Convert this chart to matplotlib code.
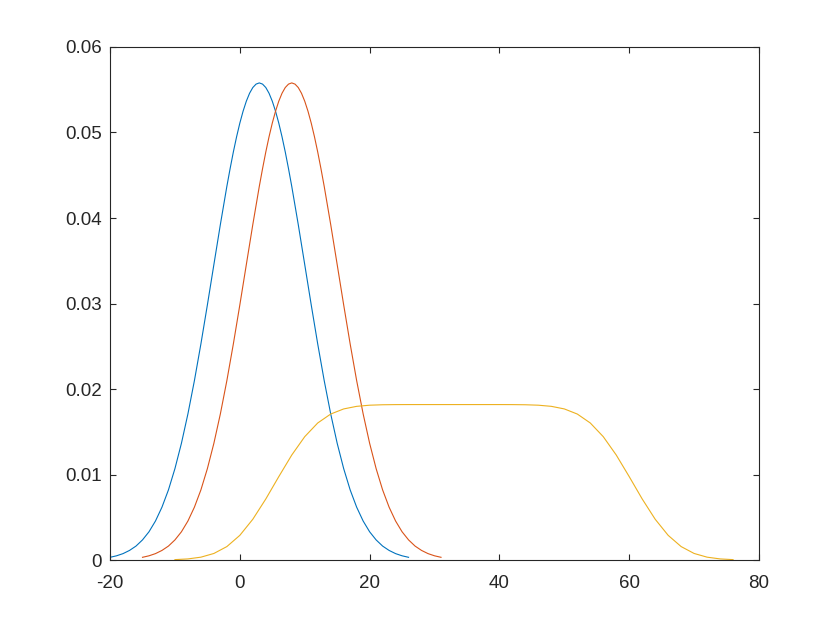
import matplotlib
matplotlib.use("Agg")
import matplotlib.pyplot as plt

# Density values
blue_x = [-20, -19, -18, -17, -16, -15, -14, -13, -12, -11, -10, -9, -8, -7, -6, -5, -4, -3, -2,
          -1.5, -1, -0.5, 0, 0.5, 1, 1.5, 2, 2.5, 3, 3.5, 4, 4.5, 5, 5.5, 6, 6.5, 7, 7.5,
          8, 9, 10, 11, 12, 13, 14, 15, 16, 17, 18, 19, 20, 21, 22, 23, 24, 25, 26]
red_x = [-15, -14, -13, -12, -11, -10, -9, -8, -7, -6, -5, -4, -3, -2, -1, 0, 1, 2, 3,
         3.5, 4, 4.5, 5, 5.5, 6, 6.5, 7, 7.5, 8, 8.5, 9, 9.5, 10, 10.5, 11, 11.5, 12, 12.5,
         13, 14, 15, 16, 17, 18, 19, 20, 21, 22, 23, 24, 25, 26, 27, 28, 29, 30, 31]
bell_y = [0.000316, 0.000491, 0.000747, 0.00112, 0.00163, 0.00235, 0.00330, 0.00456,
          0.00618, 0.00820, 0.01069, 0.01365, 0.01709, 0.02098, 0.02527, 0.02984,
          0.03455, 0.03924, 0.04370, 0.04577, 0.04772, 0.04950, 0.05110, 0.05249,
          0.05366, 0.05459, 0.05526, 0.05566, 0.05580, 0.05566, 0.05526, 0.05459,
          0.05366, 0.05249, 0.05110, 0.04950, 0.04772, 0.04577, 0.04370, 0.03924,
          0.03455, 0.02984, 0.02527, 0.02098, 0.01709, 0.01365, 0.01069, 0.00820,
          0.00618, 0.00456, 0.00330, 0.00235, 0.00163, 0.00112, 0.000747, 0.000491,
          0.000316]
blue_y = list(bell_y)
red_y = list(bell_y)

yellow_x = [-10, -8, -6, -4, -2, 0, 2, 4, 6, 8, 10, 12, 14, 16, 18, 20, 22, 24, 26, 28,
            30, 32, 34, 36, 38, 40, 42, 44, 46, 48, 50, 52, 54, 56, 58, 60, 62, 64, 66,
            68, 70, 72, 74, 76]
yellow_y = [0.000044, 0.000128, 0.000332, 0.000765, 0.00157, 0.002885, 0.004768,
            0.007137, 0.009749, 0.012278, 0.014425, 0.016025, 0.017071, 0.017670,
            0.017972, 0.018106, 0.018157, 0.018175, 0.01818, 0.01818, 0.01818, 0.01818,
            0.01818, 0.01818, 0.01818, 0.01818, 0.018175, 0.018157, 0.018106, 0.017972,
            0.017670, 0.017071, 0.016025, 0.014425, 0.012278, 0.009749, 0.007137,
            0.004768, 0.002885, 0.00157, 0.000765, 0.000332, 0.000128, 0.000044]

x_ticks = [-20, 0, 20, 40, 60, 80]
y_ticks = [0, 0.01, 0.02, 0.03, 0.04, 0.05, 0.06]
y_tick_labels = ["0", "0.01", "0.02", "0.03", "0.04", "0.05", "0.06"]

plt.rcParams['font.family'] = ['Liberation Sans', 'DejaVu Sans']
dark = '#262626'

fig = plt.figure(figsize=(8.4, 6.3), dpi=100)
ax = fig.add_axes([0.1310, 0.1111, 0.7726, 0.8143])

ax.plot(blue_x, blue_y, color='#0072BD', lw=0.8)
ax.plot(red_x, red_y, color='#D95319', lw=0.8)
ax.plot(yellow_x, yellow_y, color='#EDB120', lw=0.8)

ax.set_xlim(-20, 80)
ax.set_ylim(0, 0.06)
ax.set_xticks(x_ticks)
ax.set_xticklabels([str(v) for v in x_ticks])
ax.set_yticks(y_ticks)
ax.set_yticklabels(y_tick_labels)

for s in ax.spines.values():
    s.set_color(dark)
    s.set_linewidth(0.8)
ax.tick_params(direction='in', length=4.5, width=0.8, color=dark,
               labelcolor=dark, labelsize=13.5, top=True, right=True)
ax.tick_params(axis='x', pad=11)
ax.tick_params(axis='y', pad=6)

fig.savefig('out.png', dpi=100)
